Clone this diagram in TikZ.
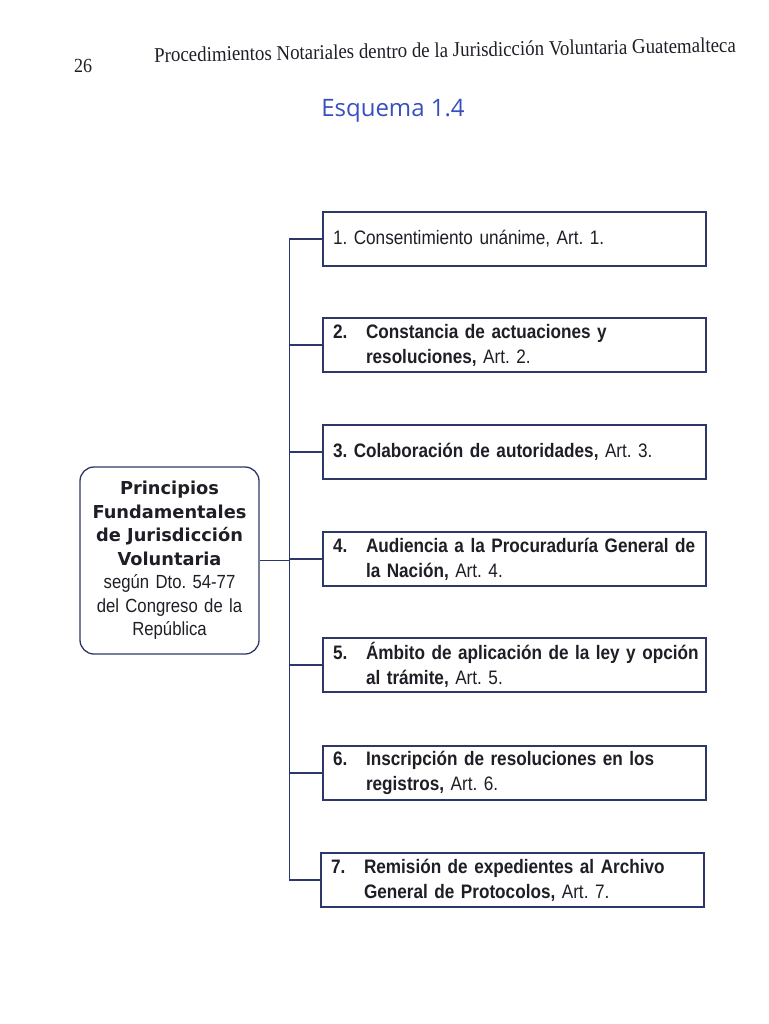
\documentclass[tikz,border=0pt]{standalone}
\usepackage{fontspec}
\setmainfont{Liberation Sans}[FakeStretch=0.88]
\newfontfamily\headfont{Liberation Serif}[FakeStretch=0.9]
\newfontfamily\titlefont{Open Sans}
\newfontfamily\princfont{DejaVu Sans}
\usetikzlibrary{positioning, calc}

\definecolor{linecol}{RGB}{45,55,105}
\definecolor{esquemablue}{RGB}{55,80,190}
\definecolor{inkcol}{RGB}{30,30,38}

\frenchspacing

% number + hanging text inside an article box
\newcommand{\numitem}[2]{\makebox[33pt][l]{\bfseries #1}\parbox[t]{345pt}{\raggedright #2}}

\begin{document}
\begin{tikzpicture}[%
		x=1pt, y=-1pt,
		article/.style={
			rectangle,
			draw=linecol,
			line width=1.3pt,
			minimum height=54pt,
			text width=363pt,
			inner xsep=10pt,
			inner ysep=0pt,
			align=left,
			text=inkcol,
			font=\fontsize{19.5}{25}\selectfont
		},
		principle/.style={
			rectangle,
			rounded corners=14pt,
			draw=linecol,
			line width=1.3pt,
			minimum width=179pt,
			minimum height=187pt,
			text width=172pt,
			inner xsep=3pt,
			align=center,
			text=inkcol,
			font=\fontsize{19}{23.5}\selectfont
		},
		branch/.style={
			draw=linecol,
			line width=1.3pt
		}]

		\useasboundingbox (0,0) rectangle (768,1024);

		% HEADER

		\node (pagenum) [text=inkcol, font=\headfont\fontsize{20}{22}\selectfont] at (83,66) {26};
		\node (running) [text=inkcol, rotate=1, font=\headfont\fontsize{21}{24}\selectfont] at (445,50) {Procedimientos Notariales dentro de la Jurisdicción Voluntaria Guatemalteca};
		\node (title) [text=esquemablue, font=\titlefont\fontsize{24}{28}\selectfont] at (393,111) {Esquema 1.4};

		% ARTICLES

		\node (art1) [article] at (514.5,239) {1. Consentimiento unánime, Art. 1.};
		\node (art2) [article] at (514.5,345) {\numitem{2.}{\bfseries Constancia de actuaciones y\\ resoluciones,\mdseries{} Art. 2.}};
		\node (art3) [article] at (514.5,452) {\textbf{3. Colaboración de autoridades,} Art. 3.};
		\node (art4) [article] at (514.5,559) {\numitem{4.}{\bfseries Audiencia a la Procuraduría General de\\ la Nación,\mdseries{} Art. 4.}};
		\node (art5) [article] at (514.5,665) {\numitem{5.}{\bfseries Ámbito de aplicación de la ley y opción\\ al trámite,\mdseries{} Art. 5.}};
		\node (art6) [article] at (514.5,773) {\numitem{6.}{\bfseries Inscripción de resoluciones en los\\ registros,\mdseries{} Art. 6.}};
		\node (art7) [article] at (512.5,880) {\numitem{7.}{\bfseries Remisión de expedientes al Archivo\\ General de Protocolos,\mdseries{} Art. 7.}};

		% PRINCIPLES BOX

		\node (principios) [principle] at (169.5,560.5) {{\princfont\bfseries\fontsize{17.8}{23.5}\selectfont Principios\\ Fundamentales\\ de Jurisdicción\\ Voluntaria\\}según Dto. 54-77\\ del Congreso de la\\ República};

		% LINES

		\coordinate (trunktop) at ($(art1.west)+(-33,0)$);
		\coordinate (trunkbot) at (art7.west -| trunktop);

		\draw[branch] (art1.west) -- (trunktop) -- (trunkbot) -- (art7.west);
		\foreach \i in {2,...,6}
			\draw[branch] (art\i.west) -- (art\i.west -| trunktop);
		\draw[branch] (principios.east) -- (principios.east -| trunktop);
\end{tikzpicture}
\end{document}
